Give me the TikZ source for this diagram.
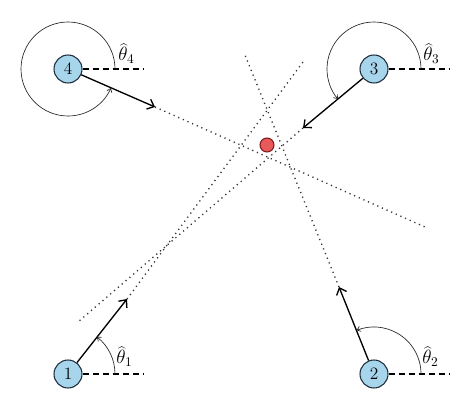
\documentclass[tikz,border=0pt]{standalone}
\usetikzlibrary{arrows.meta}
\definecolor{nodeblue}{HTML}{A6D5EC}
\definecolor{nodeedge}{HTML}{1F2F3F}
\definecolor{dotred}{HTML}{E85A5A}
\definecolor{dotedge}{HTML}{7A1A1A}
\begin{document}
\begin{tikzpicture}[x=0.75pt,y=0.75pt,
  agent/.style={circle,draw=nodeedge,fill=nodeblue,line width=0.8pt,minimum size=21pt,inner sep=0pt,font=\fontsize{13}{15}\selectfont},
  target/.style={circle,draw=dotedge,fill=dotred,line width=0.8pt,minimum size=10.5pt,inner sep=0pt},
  heading/.style={line width=1pt,-{Straight Barb[length=4.5pt,width=8pt]}},
  ray/.style={line width=1pt,dash pattern=on 0.9pt off 2.9pt,black!80},
  refline/.style={line width=0.9pt,dash pattern=on 4.5pt off 3pt},
  anglearc/.style={line width=0.5pt,black!85,-{Straight Barb[length=2.5pt,width=4pt]}},
  anglelabel/.style={anchor=south west,inner sep=0pt,font=\fontsize{14}{16}\selectfont}]
\useasboundingbox (0,0) rectangle (474,412);
% agents
\node[agent] (n1) at (68,38) {1};
\node[agent] (n2) at (374,38) {2};
\node[agent] (n3) at (374,343) {3};
\node[agent] (n4) at (68,343) {4};
\node[target] (t) at (267,267) {};
% arrow tips and ray ends
\coordinate (a1) at (127,113);
\coordinate (e1) at (303,350);
\coordinate (a2) at (339,125);
\coordinate (e2) at (245,357);
\coordinate (a3) at (303,284);
\coordinate (e3) at (78,90);
\coordinate (a4) at (155,305);
\coordinate (e4) at (425,185);
% reference line ends
\coordinate (r1) at (143,38);
\coordinate (r2) at (449,38);
\coordinate (r3) at (449,343);
\coordinate (r4) at (143,343);
% dotted rays
\draw[ray] (a1) -- (e1);
\draw[ray] (a2) -- (e2);
\draw[ray] (a3) -- (e3);
\draw[ray] (a4) -- (e4);
% dashed reference lines
\draw[refline] (n1.east) -- (r1);
\draw[refline] (n2.east) -- (r2);
\draw[refline] (n3.east) -- (r3);
\draw[refline] (n4.east) -- (r4);
% heading arrows
\draw[heading] (n1) -- (a1);
\draw[heading] (n2) -- (a2);
\draw[heading] (n3) -- (a3);
\draw[heading] (n4) -- (a4);
% angle arcs
\draw[anglearc] ([xshift=47*0.75pt]n1.center) arc[start angle=0,end angle=52,radius=47];
\draw[anglearc] ([xshift=47*0.75pt]n2.center) arc[start angle=0,end angle=111.6,radius=47];
\draw[anglearc] ([xshift=47*0.75pt]n3.center) arc[start angle=0,end angle=219.6,radius=47];
\draw[anglearc] ([xshift=47*0.75pt]n4.center) arc[start angle=0,end angle=336,radius=47];
% angle labels
\node[anglelabel] (l1) at (116,45) {$\widehat{\theta}_1$};
\node[anglelabel] (l2) at (422,45) {$\widehat{\theta}_2$};
\node[anglelabel] (l3) at (423,348) {$\widehat{\theta}_3$};
\node[anglelabel] (l4) at (118,348) {$\widehat{\theta}_4$};
\end{tikzpicture}
\end{document}
